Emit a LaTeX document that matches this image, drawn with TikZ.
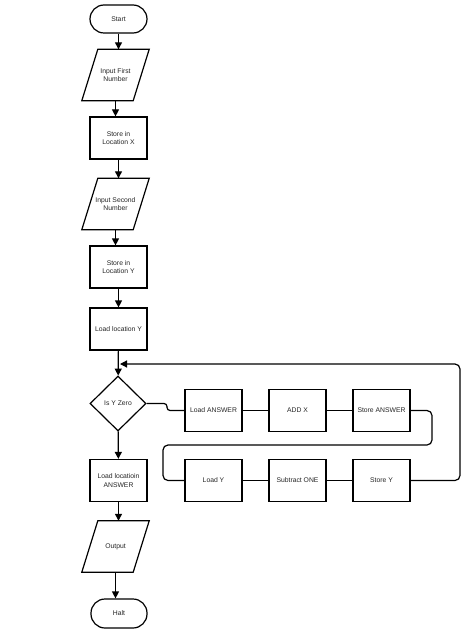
\documentclass[tikz,border=0pt]{standalone}
\usepackage{fontspec}
\setmainfont{Liberation Sans}
\usetikzlibrary{arrows.meta,shapes.geometric,calc}
\tikzset{
  base/.style={inner sep=0pt, align=center, font=\fontsize{6.8}{8.4}\selectfont, text=black!85},
  procbox/.style={base, draw, line width=1.2pt, minimum width=57pt, minimum height=42pt},
  termbox/.style={base, draw, line width=1.2pt, rounded corners=14pt, minimum width=57pt, minimum height=28pt},
  iobox/.style={base, minimum width=51pt, minimum height=51pt},
  decbox/.style={base, draw, diamond, line width=1.2pt, minimum width=56pt, minimum height=55pt},
  conn/.style={line width=1.2pt},
  arr/.style={conn, -{Triangle[length=7pt,width=7pt]}},
  iopath/.style={line width=1.2pt, line join=miter}
}
\begin{document}
\begin{tikzpicture}[x=1pt,y=-1pt]
\fill[white] (0,0) rectangle (474,639);
\useasboundingbox (0,0) rectangle (474,639);

\node[termbox] (start) at (118.5,19) {Start};
\node[iobox] (in1) at (115.5,75) {Input First\\Number};
\node[procbox] (sx) at (118.5,138) {Store in\\Location X};
\node[iobox] (in2) at (115.5,204) {Input Second\\Number};
\node[procbox] (sy) at (118.5,267) {Store in\\Location Y};
\node[procbox] (ly) at (118.5,329) {Load location Y};
\node[decbox] (dia) at (118,403.5) {Is Y Zero};
\node[procbox] (la) at (213.5,410.5) {Load ANSWER};
\node[procbox] (ax) at (297.5,410.5) {ADD X};
\node[procbox] (sa) at (381.5,410.5) {Store ANSWER};
\node[procbox] (lyy) at (213.5,480.5) {Load Y};
\node[procbox] (so) at (297.5,480.5) {Subtract ONE};
\node[procbox] (syy) at (381.5,480.5) {Store Y};
\node[procbox] (lla) at (118.5,480.5) {Load locatioin\\ANSWER};
\node[iobox] (out) at (115.5,546.5) {Output};
\node[termbox, minimum width=56pt, minimum height=29pt] (halt) at (119,613.5) {Halt};

% parallelograms
\foreach \n in {in1,in2,out}{
  \draw[iopath] ([xshift=8pt]\n.north west) -- ([xshift=8pt]\n.north east)
    -- ([xshift=-8pt]\n.south east) -- ([xshift=-8pt]\n.south west) -- cycle;
}

% main flow
\draw[arr] (start) -- (start |- in1.north);
\draw[arr] (in1.south) -- (in1.south |- sx.north);
\draw[arr] (sx) -- (sx |- in2.north);
\draw[arr] (in2.south) -- (in2.south |- sy.north);
\draw[arr] (sy) -- (ly);
\draw[arr] (ly) -- (dia);
\draw[arr] (dia) -- (lla);
\draw[arr] (lla) -- (lla |- out.north);
\draw[arr] (out.south) -- (out.south |- halt.north);

% loop
\coordinate (j1) at (167,410.5);
\draw[conn, rounded corners=3pt] (dia.east) -| (j1) -- (la.west);
\draw[conn] (la) -- (ax);
\draw[conn] (ax) -- (sa);
\coordinate (r1) at (432,445);
\coordinate (l1) at (163,445);
\draw[conn, rounded corners=5pt] (sa.east) -| (r1) -- (l1) |- (lyy.west);
\draw[conn] (lyy) -- (so);
\draw[conn] (so) -- (syy);
\coordinate (fb) at (460,364);
\coordinate (fbend) at (120,364);
\draw[arr, rounded corners=5pt] (syy.east) -| (fb) -- (fbend);
\end{tikzpicture}
\end{document}
